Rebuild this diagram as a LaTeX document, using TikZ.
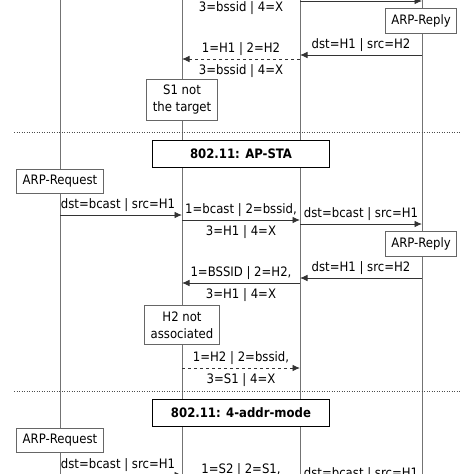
\documentclass[tikz,border=0pt]{standalone}
\usepackage{fontspec}
\setmainfont{DejaVu Sans Condensed}
\usetikzlibrary{arrows.meta}

\begin{document}
\begin{tikzpicture}[x=1pt, y=-1pt,
  font=\fontsize{13}{17}\selectfont,
  life/.style={draw=black!55, line width=0.8pt},
  msg/.style={draw=black!80, line width=0.9pt, -{Latex[length=7.5pt,width=6.5pt]}},
  reply/.style={msg, dashed},
  note/.style={rectangle, draw=black!60, fill=white, line width=0.8pt, align=center, inner xsep=6pt, inner ysep=6pt},
  phase/.style={rectangle, draw=black, fill=white, line width=1.5pt, minimum width=177pt, minimum height=27pt, font=\fontsize{13}{17}\selectfont\bfseries},
  lbl/.style={inner sep=1pt},
  sep/.style={draw=black!70, line width=0.8pt, dash pattern=on 1pt off 1.5pt}]
  \useasboundingbox (0,0) rectangle (474,474);
  \clip (0,0) rectangle (474,474);

  % lifelines
  \foreach \n/\x in {a/60, b/182, c/300, d/422} {
    \coordinate (\n0) at (\x,-20);
    \coordinate (\n1) at (\x,500);
    \draw[life] (\n0) -- (\n1);
  }
  % message rows
  \foreach \r/\y in {r1/-4, r2/1, r3/55, r4/59, r5/215, r6/220, r7/224, r8/278, r9/283, r10/368, r11/475, r12/480, r13/484}
    \coordinate (\r) at (0,\y);

  \draw[msg] (b0 |- r1) -- node[lbl, below=4pt] {3=bssid | 4=X} (c0 |- r1);
  \draw[msg] (c0 |- r2) -- (d0 |- r2);
  \node (reply1) [note] at (421,21) {ARP-Reply};
  \draw[msg] (d0 |- r3) -- node[lbl, above=2pt] {dst=H1 | src=H2} (c0 |- r3);
  \draw[reply] (c0 |- r4) -- node[lbl, above=2pt] {1=H1 | 2=H2} node[lbl, below=4pt] {3=bssid | 4=X} (b0 |- r4);
  \node (s1) [note] at (182,100) {S1 not\\the target};

  \draw[sep] (14,132) -- (460,132);
  \node (apsta) [phase] at (241,154) {802.11: AP-STA};
  \node (req2) [note] at (60,181) {ARP-Request};
  \draw[msg] (a0 |- r5) -- node[lbl, above=2pt, xshift=-3pt] {dst=bcast | src=H1} (b0 |- r5);
  \draw[msg] (b0 |- r6) -- node[lbl, above=2pt] {1=bcast | 2=bssid,} node[lbl, below=4pt] {3=H1 | 4=X} (c0 |- r6);
  \draw[msg] (c0 |- r7) -- node[lbl, above=2pt] {dst=bcast | src=H1} (d0 |- r7);
  \node (reply2) [note] at (421,244) {ARP-Reply};
  \draw[msg] (d0 |- r8) -- node[lbl, above=2pt] {dst=H1 | src=H2} (c0 |- r8);
  \draw[msg] (c0 |- r9) -- node[lbl, above=2pt] {1=BSSID | 2=H2,} node[lbl, below=4pt] {3=H1 | 4=X} (b0 |- r9);
  \node (h2) [note] at (182,325) {H2 not\\associated};
  \draw[reply] (b0 |- r10) -- node[lbl, above=2pt] {1=H2 | 2=bssid,} node[lbl, below=4pt] {3=S1 | 4=X} (c0 |- r10);

  \draw[sep] (14,391) -- (460,391);
  \node (addr4) [phase] at (241,413) {802.11: 4-addr-mode};
  \node (req3) [note] at (60,440) {ARP-Request};
  \draw[msg] (a0 |- r11) -- node[lbl, above=2pt, xshift=-3pt] {dst=bcast | src=H1} (b0 |- r11);
  \draw[msg] (b0 |- r12) -- node[lbl, above=2pt] {1=S2 | 2=S1,} (c0 |- r12);
  \draw[msg] (c0 |- r13) -- node[lbl, above=2pt] {dst=bcast | src=H1} (d0 |- r13);
\end{tikzpicture}
\end{document}
